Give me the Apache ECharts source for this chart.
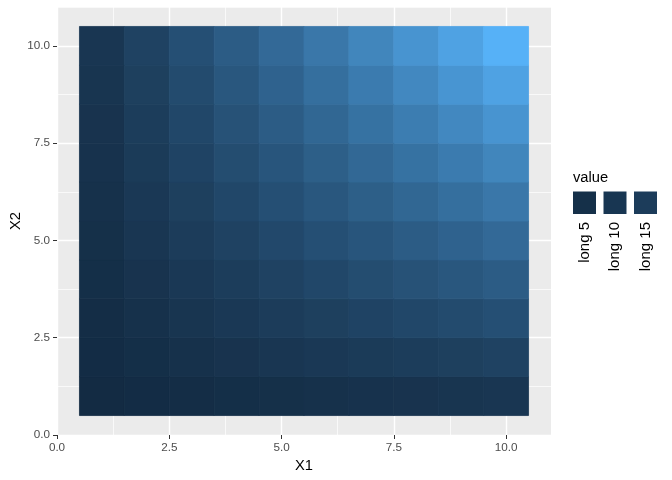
<!DOCTYPE html>
<html>
<head>
<meta charset="utf-8">
<script src="https://cdn.jsdelivr.net/npm/echarts@6/dist/echarts.min.js"></script>
<style>
html,body{margin:0;padding:0;background:#fff;}
#chart{width:672px;height:480px;}
</style>
</head>
<body>
<div id="chart"></div>
<script>
// ---- data ----
const x1Values = [1, 2, 3, 4, 5, 6, 7, 8, 9, 10];
const x2Values = [1, 2, 3, 4, 5, 6, 7, 8, 9, 10];
// rows indexed by X2 (1..10), columns by X1 (1..10)
const values = [
  [1, 2, 3, 4, 5, 6, 7, 8, 9, 10],
  [2, 4, 6, 8, 10, 12, 14, 16, 18, 20],
  [3, 6, 9, 12, 15, 18, 21, 24, 27, 30],
  [4, 8, 12, 16, 20, 24, 28, 32, 36, 40],
  [5, 10, 15, 20, 25, 30, 35, 40, 45, 50],
  [6, 12, 18, 24, 30, 36, 42, 48, 54, 60],
  [7, 14, 21, 28, 35, 42, 49, 56, 63, 70],
  [8, 16, 24, 32, 40, 48, 56, 64, 72, 80],
  [9, 18, 27, 36, 45, 54, 63, 72, 81, 90],
  [10, 20, 30, 40, 50, 60, 70, 80, 90, 100]
];
const axisTicks = [0, 2.5, 5, 7.5, 10];
const legendBreaks = [5, 10, 15];
const legendLabels = ['long 5', 'long 10', 'long 15'];
const lowColor = '#132B43';
const highColor = '#56B1F7';

// ---- Lab interpolation (like ggplot's gradient) ----
function hexToRgb(h){h=h.replace('#','');return [parseInt(h.substr(0,2),16),parseInt(h.substr(2,2),16),parseInt(h.substr(4,2),16)];}
function toLin(c){c/=255;return c<=0.04045?c/12.92:Math.pow((c+0.055)/1.055,2.4);}
function fromLin(c){const v=c<=0.0031308?12.92*c:1.055*Math.pow(c,1/2.4)-0.055;return Math.max(0,Math.min(255,Math.round(v*255)));}
const WX=0.95047,WY=1,WZ=1.08883;
function f(t){return t>0.008856?Math.cbrt(t):(7.787*t+16/116);}
function fi(t){const t3=t*t*t;return t3>0.008856?t3:(t-16/116)/7.787;}
function rgbToLab(rgb){const r=toLin(rgb[0]),g=toLin(rgb[1]),b=toLin(rgb[2]);
  const X=r*0.4124+g*0.3576+b*0.1805,Y=r*0.2126+g*0.7152+b*0.0722,Z=r*0.0193+g*0.1192+b*0.9505;
  const fx=f(X/WX),fy=f(Y/WY),fz=f(Z/WZ);return [116*fy-16,500*(fx-fy),200*(fy-fz)];}
function labToHex(lab){const fy=(lab[0]+16)/116,fx=fy+lab[1]/500,fz=fy-lab[2]/200;
  const X=fi(fx)*WX,Y=fi(fy)*WY,Z=fi(fz)*WZ;
  const r=X*3.2406+Y*-1.5372+Z*-0.4986,g=X*-0.9689+Y*1.8758+Z*0.0415,b=X*0.0557+Y*-0.2040+Z*1.0570;
  return '#'+[fromLin(r),fromLin(g),fromLin(b)].map(v=>v.toString(16).padStart(2,'0')).join('');}
const labLow=rgbToLab(hexToRgb(lowColor)),labHigh=rgbToLab(hexToRgb(highColor));
function gradColor(t){return labToHex([0,1,2].map(i=>labLow[i]+(labHigh[i]-labLow[i])*t));}
const stops=[];for(let i=0;i<=40;i++){stops.push(gradColor(i/40));}

let vMin=Infinity,vMax=-Infinity;
const seriesData=[];
x2Values.forEach((y,yi)=>{x1Values.forEach((x,xi)=>{const v=values[yi][xi];vMin=Math.min(vMin,v);vMax=Math.max(vMax,v);seriesData.push([x,y,v]);});});

const FONT='Liberation Sans, Arial, sans-serif';

// legend graphics
const legendGraphics=[{type:'text',left:573,top:170,style:{text:'value',fontSize:14.7,fontFamily:FONT,fill:'#000'}}];
legendBreaks.forEach((b,i)=>{
  const x0=573+i*30.5;
  legendGraphics.push({type:'rect',shape:{x:x0,y:191.5,width:23,height:22.5},style:{fill:gradColor((b-vMin)/(vMax-vMin))}});
  legendGraphics.push({type:'text',x:x0+11.5,y:222,rotation:Math.PI/2,style:{text:legendLabels[i],fontSize:15,fontFamily:FONT,fill:'#000',align:'right',verticalAlign:'middle'}});
});

const axisCommon={
  type:'value',min:0,max:11,interval:2.5,
  axisLine:{show:false},
  axisTick:{show:true,length:4,lineStyle:{color:'#333333',width:1},customValues:axisTicks},
  axisLabel:{color:'#4D4D4D',fontSize:11.7,fontFamily:FONT,margin:7,customValues:axisTicks,formatter:v=>v.toFixed(1)},
  splitLine:{show:true,lineStyle:{color:'#FFFFFF',width:1.4}},
  nameLocation:'middle',
  nameMoveOverlap:false,
  nameTextStyle:{color:'#000',fontSize:14.7,fontFamily:FONT}
};
const minorAxis={type:'value',min:0,max:11,interval:1.25,axisLine:{show:false},axisTick:{show:false},axisLabel:{show:false},splitLine:{show:true,lineStyle:{color:'#FFFFFF',width:0.7}}};

const chart=echarts.init(document.getElementById('chart'),null,{renderer:'canvas'});
chart.setOption({
  animation:false,
  backgroundColor:'#FFFFFF',
  grid:{left:57,right:121,top:7,bottom:45,show:true,backgroundColor:'#EBEBEB',borderWidth:0,containLabel:false,outerBoundsMode:'none'},
  xAxis:[Object.assign({},axisCommon,{name:'X1',nameGap:23,position:'bottom'}),Object.assign({},minorAxis,{position:'top'})],
  yAxis:[Object.assign({},axisCommon,{name:'X2',nameGap:34,position:'left'}),Object.assign({},minorAxis,{position:'right'})],
  visualMap:{type:'continuous',show:false,min:vMin,max:vMax,dimension:2,seriesIndex:0,inRange:{color:stops}},
  series:[{
    type:'custom',
    xAxisIndex:0,yAxisIndex:0,
    data:seriesData,
    encode:{x:0,y:1},
    clip:true,
    renderItem:function(params,api){
      const x=api.value(0),y=api.value(1);
      const p0=api.coord([x-0.5,y+0.5]);
      const p1=api.coord([x+0.5,y-0.5]);
      const c=api.visual('color');
      return {type:'rect',shape:{x:p0[0],y:p0[1],width:p1[0]-p0[0],height:p1[1]-p0[1]},style:{fill:c,stroke:c,lineWidth:0.8}};
    }
  }],
  graphic:legendGraphics
});
</script>
</body>
</html>
